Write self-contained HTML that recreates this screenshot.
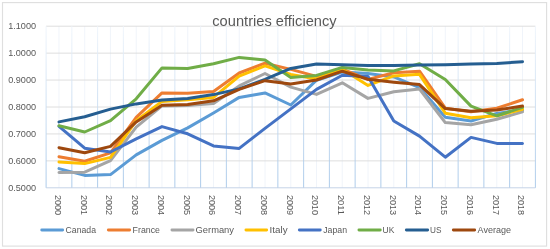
<!DOCTYPE html>
<html><head><meta charset="utf-8"><title>countries efficiency</title>
<style>
html,body{margin:0;padding:0;background:#fff;}
body{width:550px;height:249px;overflow:hidden;font-family:"Liberation Sans",sans-serif;}
svg{display:block;}
text{font-family:"Liberation Sans",sans-serif;fill:#595959;}
</style></head><body>
<svg width="550" height="249" viewBox="0 0 550 249">
<rect x="0" y="0" width="550" height="249" fill="#fff"/>
<rect x="2.5" y="2.6" width="544.1" height="243.5" fill="#fff" stroke="#DFDFDF" stroke-width="1.15"/>

<defs><linearGradient id="vg" gradientUnits="userSpaceOnUse" x1="0" y1="26.2" x2="0" y2="187.8"><stop offset="0" stop-color="#EEF4FB"/><stop offset="1" stop-color="#A3C5E8"/></linearGradient></defs>
<g stroke="#EEF3F9" stroke-width="0.9">
<line x1="58.98" y1="26.20" x2="58.98" y2="187.80"/>
<line x1="84.73" y1="26.20" x2="84.73" y2="187.80"/>
<line x1="110.48" y1="26.20" x2="110.48" y2="187.80"/>
<line x1="136.23" y1="26.20" x2="136.23" y2="187.80"/>
<line x1="161.99" y1="26.20" x2="161.99" y2="187.80"/>
<line x1="187.74" y1="26.20" x2="187.74" y2="187.80"/>
<line x1="213.49" y1="26.20" x2="213.49" y2="187.80"/>
<line x1="239.24" y1="26.20" x2="239.24" y2="187.80"/>
<line x1="265.00" y1="26.20" x2="265.00" y2="187.80"/>
<line x1="290.75" y1="26.20" x2="290.75" y2="187.80"/>
<line x1="316.50" y1="26.20" x2="316.50" y2="187.80"/>
<line x1="342.26" y1="26.20" x2="342.26" y2="187.80"/>
<line x1="368.01" y1="26.20" x2="368.01" y2="187.80"/>
<line x1="393.76" y1="26.20" x2="393.76" y2="187.80"/>
<line x1="419.51" y1="26.20" x2="419.51" y2="187.80"/>
<line x1="445.27" y1="26.20" x2="445.27" y2="187.80"/>
<line x1="471.02" y1="26.20" x2="471.02" y2="187.80"/>
<line x1="496.77" y1="26.20" x2="496.77" y2="187.80"/>
<line x1="522.52" y1="26.20" x2="522.52" y2="187.80"/>
</g>
<g stroke="#DADADA" stroke-width="0.9">
<line x1="46.10" y1="26.20" x2="535.40" y2="26.20"/>
<line x1="46.10" y1="53.13" x2="535.40" y2="53.13"/>
<line x1="46.10" y1="80.07" x2="535.40" y2="80.07"/>
<line x1="46.10" y1="107.00" x2="535.40" y2="107.00"/>
<line x1="46.10" y1="133.93" x2="535.40" y2="133.93"/>
<line x1="46.10" y1="160.87" x2="535.40" y2="160.87"/>
</g>
<g stroke="url(#vg)" stroke-width="0.9">
<line x1="46.10" y1="26.20" x2="46.10" y2="187.80"/>
<line x1="71.85" y1="26.20" x2="71.85" y2="187.80"/>
<line x1="97.61" y1="26.20" x2="97.61" y2="187.80"/>
<line x1="123.36" y1="26.20" x2="123.36" y2="187.80"/>
<line x1="149.11" y1="26.20" x2="149.11" y2="187.80"/>
<line x1="174.86" y1="26.20" x2="174.86" y2="187.80"/>
<line x1="200.62" y1="26.20" x2="200.62" y2="187.80"/>
<line x1="226.37" y1="26.20" x2="226.37" y2="187.80"/>
<line x1="252.12" y1="26.20" x2="252.12" y2="187.80"/>
<line x1="277.87" y1="26.20" x2="277.87" y2="187.80"/>
<line x1="303.63" y1="26.20" x2="303.63" y2="187.80"/>
<line x1="329.38" y1="26.20" x2="329.38" y2="187.80"/>
<line x1="355.13" y1="26.20" x2="355.13" y2="187.80"/>
<line x1="380.88" y1="26.20" x2="380.88" y2="187.80"/>
<line x1="406.64" y1="26.20" x2="406.64" y2="187.80"/>
<line x1="432.39" y1="26.20" x2="432.39" y2="187.80"/>
<line x1="458.14" y1="26.20" x2="458.14" y2="187.80"/>
<line x1="483.89" y1="26.20" x2="483.89" y2="187.80"/>
<line x1="509.65" y1="26.20" x2="509.65" y2="187.80"/>
<line x1="535.40" y1="26.20" x2="535.40" y2="187.80"/>
<line x1="46.10" y1="187.80" x2="535.40" y2="187.80" stroke="#BFCFE4"/>
</g>
<g fill="none" stroke-width="3" stroke-linecap="round" stroke-linejoin="round">
<polyline stroke="#5B9BD5" points="59.0,168.6 84.7,175.4 110.5,174.6 136.2,154.9 162.0,140.4 187.7,127.9 213.5,113.0 239.2,97.4 265.0,92.9 290.8,105.0 316.5,80.2 342.3,72.0 368.0,73.4 393.8,76.9 419.5,87.6 445.3,117.2 471.0,121.0 496.8,113.4 522.5,109.9"/>
<polyline stroke="#ED7D31" points="59.0,156.7 84.7,161.3 110.5,152.9 136.2,117.4 162.0,92.9 187.7,93.3 213.5,91.5 239.2,73.0 265.0,63.2 290.8,69.4 316.5,76.4 342.3,69.2 368.0,79.4 393.8,72.7 419.5,71.2 445.3,108.2 471.0,111.7 496.8,108.2 522.5,99.8"/>
<polyline stroke="#A5A5A5" points="59.0,172.6 84.7,172.2 110.5,160.6 136.2,127.1 162.0,105.9 187.7,105.6 213.5,103.6 239.2,85.9 265.0,73.5 290.8,87.1 316.5,94.4 342.3,82.8 368.0,98.4 393.8,91.7 419.5,89.0 445.3,122.6 471.0,124.7 496.8,119.2 522.5,111.9"/>
<polyline stroke="#FFC000" points="59.0,161.9 84.7,163.6 110.5,157.4 136.2,120.6 162.0,101.4 187.7,99.7 213.5,97.4 239.2,76.1 265.0,65.8 290.8,74.4 316.5,78.9 342.3,69.2 368.0,85.4 393.8,75.9 419.5,74.3 445.3,113.2 471.0,117.8 496.8,115.8 522.5,109.2"/>
<polyline stroke="#4472C4" points="59.0,126.3 84.7,148.2 110.5,152.0 136.2,138.9 162.0,126.6 187.7,133.8 213.5,145.9 239.2,148.4 265.0,128.4 290.8,108.9 316.5,89.4 342.3,75.3 368.0,76.4 393.8,121.0 419.5,136.1 445.3,157.2 471.0,137.4 496.8,143.4 522.5,143.5"/>
<polyline stroke="#70AD47" points="59.0,125.8 84.7,132.0 110.5,120.6 136.2,98.8 162.0,67.9 187.7,68.4 213.5,63.8 239.2,57.4 265.0,59.9 290.8,77.6 316.5,75.4 342.3,67.4 368.0,70.0 393.8,70.9 419.5,63.7 445.3,79.5 471.0,106.1 496.8,115.8 522.5,107.4"/>
<polyline stroke="#255E91" points="59.0,121.9 84.7,116.8 110.5,109.1 136.2,103.9 162.0,100.1 187.7,98.4 213.5,94.6 239.2,88.9 265.0,79.4 290.8,68.4 316.5,64.0 342.3,64.8 368.0,65.5 393.8,65.5 419.5,65.1 445.3,64.8 471.0,64.0 496.8,63.5 522.5,61.7"/>
<polyline stroke="#9E480E" points="59.0,147.7 84.7,152.8 110.5,146.4 136.2,121.9 162.0,105.2 187.7,104.6 213.5,100.8 239.2,89.4 265.0,80.7 290.8,83.9 316.5,80.0 342.3,71.2 368.0,79.3 393.8,82.2 419.5,84.6 445.3,108.6 471.0,111.2 496.8,109.9 522.5,106.1"/>
</g>
<text x="212.3" y="26.2" font-size="14.4" textLength="124.3" lengthAdjust="spacingAndGlyphs">countries efficiency</text>
<text x="8.2" y="29.30" font-size="9.5" textLength="27.9" lengthAdjust="spacingAndGlyphs">1.1000</text>
<text x="8.2" y="56.23" font-size="9.5" textLength="27.9" lengthAdjust="spacingAndGlyphs">1.0000</text>
<text x="8.2" y="83.17" font-size="9.5" textLength="27.9" lengthAdjust="spacingAndGlyphs">0.9000</text>
<text x="8.2" y="110.10" font-size="9.5" textLength="27.9" lengthAdjust="spacingAndGlyphs">0.8000</text>
<text x="8.2" y="137.03" font-size="9.5" textLength="27.9" lengthAdjust="spacingAndGlyphs">0.7000</text>
<text x="8.2" y="163.97" font-size="9.5" textLength="27.9" lengthAdjust="spacingAndGlyphs">0.6000</text>
<text x="8.2" y="190.90" font-size="9.5" textLength="27.9" lengthAdjust="spacingAndGlyphs">0.5000</text>
<text transform="translate(54.78,194.9) rotate(90)" x="0" y="0" font-size="9.8" textLength="20.2" lengthAdjust="spacingAndGlyphs">2000</text>
<text transform="translate(80.53,194.9) rotate(90)" x="0" y="0" font-size="9.8" textLength="20.2" lengthAdjust="spacingAndGlyphs">2001</text>
<text transform="translate(106.28,194.9) rotate(90)" x="0" y="0" font-size="9.8" textLength="20.2" lengthAdjust="spacingAndGlyphs">2002</text>
<text transform="translate(132.03,194.9) rotate(90)" x="0" y="0" font-size="9.8" textLength="20.2" lengthAdjust="spacingAndGlyphs">2003</text>
<text transform="translate(157.79,194.9) rotate(90)" x="0" y="0" font-size="9.8" textLength="20.2" lengthAdjust="spacingAndGlyphs">2004</text>
<text transform="translate(183.54,194.9) rotate(90)" x="0" y="0" font-size="9.8" textLength="20.2" lengthAdjust="spacingAndGlyphs">2005</text>
<text transform="translate(209.29,194.9) rotate(90)" x="0" y="0" font-size="9.8" textLength="20.2" lengthAdjust="spacingAndGlyphs">2006</text>
<text transform="translate(235.04,194.9) rotate(90)" x="0" y="0" font-size="9.8" textLength="20.2" lengthAdjust="spacingAndGlyphs">2007</text>
<text transform="translate(260.80,194.9) rotate(90)" x="0" y="0" font-size="9.8" textLength="20.2" lengthAdjust="spacingAndGlyphs">2008</text>
<text transform="translate(286.55,194.9) rotate(90)" x="0" y="0" font-size="9.8" textLength="20.2" lengthAdjust="spacingAndGlyphs">2009</text>
<text transform="translate(312.30,194.9) rotate(90)" x="0" y="0" font-size="9.8" textLength="20.2" lengthAdjust="spacingAndGlyphs">2010</text>
<text transform="translate(338.06,194.9) rotate(90)" x="0" y="0" font-size="9.8" textLength="20.2" lengthAdjust="spacingAndGlyphs">2011</text>
<text transform="translate(363.81,194.9) rotate(90)" x="0" y="0" font-size="9.8" textLength="20.2" lengthAdjust="spacingAndGlyphs">2012</text>
<text transform="translate(389.56,194.9) rotate(90)" x="0" y="0" font-size="9.8" textLength="20.2" lengthAdjust="spacingAndGlyphs">2013</text>
<text transform="translate(415.31,194.9) rotate(90)" x="0" y="0" font-size="9.8" textLength="20.2" lengthAdjust="spacingAndGlyphs">2014</text>
<text transform="translate(441.07,194.9) rotate(90)" x="0" y="0" font-size="9.8" textLength="20.2" lengthAdjust="spacingAndGlyphs">2015</text>
<text transform="translate(466.82,194.9) rotate(90)" x="0" y="0" font-size="9.8" textLength="20.2" lengthAdjust="spacingAndGlyphs">2016</text>
<text transform="translate(492.57,194.9) rotate(90)" x="0" y="0" font-size="9.8" textLength="20.2" lengthAdjust="spacingAndGlyphs">2017</text>
<text transform="translate(518.32,194.9) rotate(90)" x="0" y="0" font-size="9.8" textLength="20.2" lengthAdjust="spacingAndGlyphs">2018</text>
<g stroke-width="2.8" stroke-linecap="round">
<line x1="41.7" y1="230" x2="62.7" y2="230" stroke="#5B9BD5"/>
<line x1="108.3" y1="230" x2="129.7" y2="230" stroke="#ED7D31"/>
<line x1="171.9" y1="230" x2="193.1" y2="230" stroke="#A5A5A5"/>
<line x1="245.9" y1="230" x2="266.7" y2="230" stroke="#FFC000"/>
<line x1="299.3" y1="230" x2="320.3" y2="230" stroke="#4472C4"/>
<line x1="358.9" y1="230" x2="380.3" y2="230" stroke="#70AD47"/>
<line x1="406.3" y1="230" x2="427.7" y2="230" stroke="#255E91"/>
<line x1="453.3" y1="230" x2="474.7" y2="230" stroke="#9E480E"/>
</g>
<text x="65.6" y="232.9" font-size="9.4" textLength="30.4" lengthAdjust="spacingAndGlyphs">Canada</text>
<text x="132.6" y="232.9" font-size="9.4" textLength="27.4" lengthAdjust="spacingAndGlyphs">France</text>
<text x="195.6" y="232.9" font-size="9.4" textLength="38.4" lengthAdjust="spacingAndGlyphs">Germany</text>
<text x="269.6" y="232.9" font-size="9.4" textLength="18.0" lengthAdjust="spacingAndGlyphs">Italy</text>
<text x="323.2" y="232.9" font-size="9.4" textLength="23.8" lengthAdjust="spacingAndGlyphs">Japan</text>
<text x="382.6" y="232.9" font-size="9.4" textLength="11.8" lengthAdjust="spacingAndGlyphs">UK</text>
<text x="430.0" y="232.9" font-size="9.4" textLength="11.4" lengthAdjust="spacingAndGlyphs">US</text>
<text x="477.6" y="232.9" font-size="9.4" textLength="33.4" lengthAdjust="spacingAndGlyphs">Average</text>
</svg></body></html>
